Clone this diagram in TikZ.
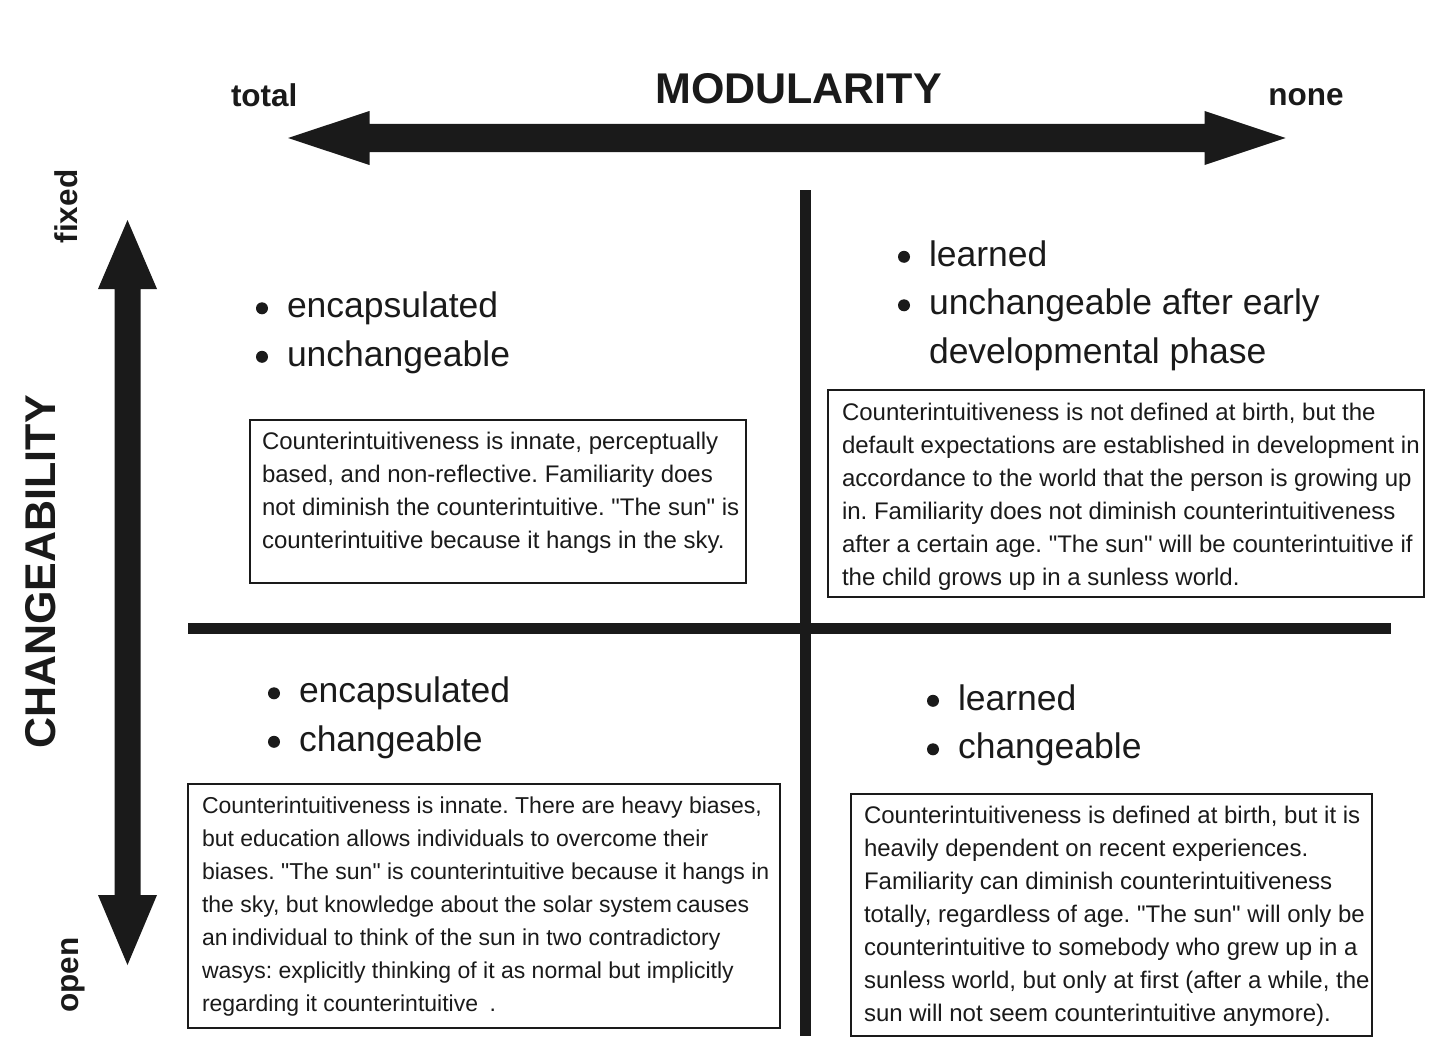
\documentclass[tikz,border=0pt]{standalone}
\usepackage{fontspec}
\setmainfont{Liberation Sans}
\definecolor{ink}{HTML}{1A1A1A}
\newcommand{\dq}{\XeTeXglyph\XeTeXcharglyph"22\relax}
\begin{document}
\frenchspacing
\begin{tikzpicture}[x=1pt,y=-1pt,
  every node/.style={inner sep=0pt, outer sep=0pt, text=ink},
  box/.style={draw=ink, line width=1.3pt, anchor=north west, inner sep=0pt},
  boxtext/.style={anchor=north west, align=left, font=\fontsize{24}{32.9}\selectfont},
  blt/.style={anchor=base west, font=\fontsize{35.5}{42}\selectfont},
  axislbl/.style={font=\bfseries\fontsize{31.5}{36}\selectfont},
  biglbl/.style={font=\bfseries\fontsize{43}{48}\selectfont},
  bar/.style={draw=ink, line width=11pt},
]
\useasboundingbox (0,0) rectangle (1437,1046);

% double arrows
\fill[ink] (288,138) -- (369.5,111) -- (369.5,124) -- (1204.5,124) -- (1204.5,111) -- (1285.5,138)
  -- (1204.5,165) -- (1204.5,152) -- (369.5,152) -- (369.5,165) -- cycle;
\fill[ink] (127.5,220) -- (157,289) -- (140.5,289) -- (140.5,895) -- (157,895) -- (127.5,965)
  -- (98,895) -- (114.5,895) -- (114.5,289) -- (98,289) -- cycle;

% axis labels
\node[axislbl, anchor=base west] (total) at (231,107) {total};
\node[axislbl, anchor=base east] (none) at (1343.5,106) {none};
\node[biglbl, anchor=base] (mod) at (798.5,103.3) {MODULARITY};
\node[axislbl, rotate=90, anchor=base] (fixed) at (77,206.5) {fixed};
\node[axislbl, rotate=90, anchor=base] (open) at (78,975) {open};
\node[biglbl, rotate=90, anchor=base] (chg) at (55,572) {CHANGEABILITY};

% quadrant lines
\coordinate (vt) at (805.5,190);
\coordinate (vb) at (805.5,1036);
\coordinate (hl) at (188,628.5);
\coordinate (hr) at (1391,628.5);
\draw[bar] (hl) -- (hr);
\draw[bar] (vt) -- (vb);

% top-left quadrant
\node[blt] (tla) at (287,317.5) {encapsulated};
\node[blt] (tlb) at (287,366) {unchangeable};
\fill[ink] ([shift={(-25,-9.2)}]tla.base west) circle (6);
\fill[ink] ([shift={(-25,-9.2)}]tlb.base west) circle (6);
\node[box, minimum width=496pt, minimum height=163pt] (tlbox) at (250,420) {};
\node[boxtext] (tltext) at (262,432.5) {Counterintuitiveness is innate, perceptually\\
based, and non-reflective. Familiarity does\\
not diminish the counterintuitive. \dq The sun\dq\ is\\
counterintuitive because it hangs in the sky.};

% top-right quadrant
\node[blt] (tra) at (929,266) {learned};
\node[blt] (trb) at (929,314.5) {unchangeable after early};
\node[blt] (trc) at (929,363) {developmental phase};
\fill[ink] ([shift={(-25,-9.2)}]tra.base west) circle (6);
\fill[ink] ([shift={(-25,-9.2)}]trb.base west) circle (6);
\node[box, minimum width=596pt, minimum height=207pt] (trbox) at (828,390) {};
\node[boxtext] (trtext) at (842,403.5) {Counterintuitiveness is not defined at birth, but the\\
default expectations are established in development in\\
accordance to the world that the person is growing up\\
in. Familiarity does not diminish counterintuitiveness\\
after a certain age. \dq The sun\dq\ will be counterintuitive if\\
the child grows up in a sunless world.};

% bottom-left quadrant
\node[blt] (bla) at (299,702.5) {encapsulated};
\node[blt] (blb) at (299,751) {changeable};
\fill[ink] ([shift={(-25,-9.2)}]bla.base west) circle (6);
\fill[ink] ([shift={(-25,-9.2)}]blb.base west) circle (6);
\node[box, minimum width=592pt, minimum height=244pt] (blbox) at (188,784) {};
\node[boxtext, font=\fontsize{23}{32.9}\selectfont] (bltext) at (202,797) {Counterintuitiveness is innate. There are heavy biases,\\
but education allows individuals to overcome their\\
biases. \dq The sun\dq\ is counterintuitive because it hangs in\\
the sky, but knowledge about the solar system\hspace{-2pt} causes\\
an\hspace{-2pt} individual to think of the sun in two contradictory\\
wasys: explicitly thinking of it as normal but implicitly\\
regarding it counterintuitive\hspace{0.5em}.};

% bottom-right quadrant
\node[blt] (bra) at (958,710) {learned};
\node[blt] (brb) at (958,758.5) {changeable};
\fill[ink] ([shift={(-25,-9.2)}]bra.base west) circle (6);
\fill[ink] ([shift={(-25,-9.2)}]brb.base west) circle (6);
\node[box, minimum width=521pt, minimum height=242pt] (brbox) at (851,794) {};
\node[boxtext] (brtext) at (864,806.5) {Counterintuitiveness is defined at birth, but it is\\
heavily dependent on recent experiences.\\
Familiarity can diminish counterintuitiveness\\
totally, regardless of age. \dq The sun\dq\ will only be\\
counterintuitive to somebody who grew up in a\\
sunless world, but only at first (after a while, the\\
sun will not seem counterintuitive anymore).};
\end{tikzpicture}
\end{document}
